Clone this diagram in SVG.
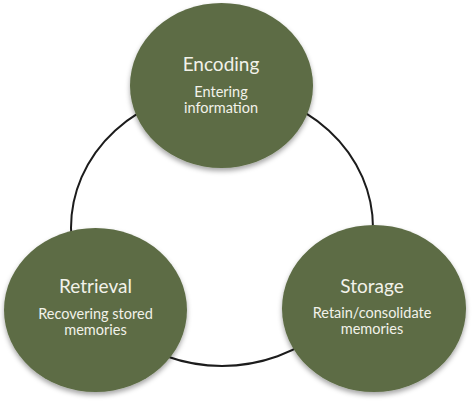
<svg xmlns="http://www.w3.org/2000/svg" width="474" height="401" viewBox="0 0 474 401">
  <defs>
    <filter id="shadow" x="-10%" y="-10%" width="120%" height="125%">
      <feGaussianBlur in="SourceAlpha" stdDeviation="2.5"/>
      <feOffset dx="0" dy="3" result="b"/>
      <feFlood flood-color="#000" flood-opacity="0.35"/>
      <feComposite in2="b" operator="in"/>
      <feMerge><feMergeNode/><feMergeNode in="SourceGraphic"/></feMerge>
    </filter>
  </defs>
  <style>
    .node { fill: #5d6c45; filter: url(#shadow); }
    .ring { fill: none; stroke: #1c1c1c; stroke-width: 2; }
    .title { font-family: Lato, "Liberation Sans", sans-serif; font-size: 19px; fill: #f2f2ea; text-anchor: middle; }
    .sub { font-family: Lato, "Liberation Sans", sans-serif; font-size: 14.5px; fill: #f2f2ea; text-anchor: middle; }
  </style>
  <rect width="474" height="401" fill="#ffffff"/>
  <g id="connectors">
    <ellipse class="ring" cx="222" cy="228" rx="151" ry="138"/>
  </g>
  <g id="encoding">
    <ellipse class="node" cx="221.5" cy="85.5" rx="91.5" ry="82.5"/>
    <text class="title" x="221" y="71">Encoding</text>
    <text class="sub" x="221" y="97">Entering</text>
    <text class="sub" x="221" y="113">information</text>
  </g>
  <g id="retrieval">
    <ellipse class="node" cx="95.5" cy="310" rx="91.5" ry="82"/>
    <text class="title" x="95.5" y="293">Retrieval</text>
    <text class="sub" x="95.5" y="319">Recovering stored</text>
    <text class="sub" x="95.5" y="335">memories</text>
  </g>
  <g id="storage">
    <ellipse class="node" cx="374" cy="308.5" rx="92" ry="83.5"/>
    <text class="title" x="372" y="293">Storage</text>
    <text class="sub" x="372" y="318">Retain/consolidate</text>
    <text class="sub" x="372" y="334">memories</text>
  </g>
</svg>
